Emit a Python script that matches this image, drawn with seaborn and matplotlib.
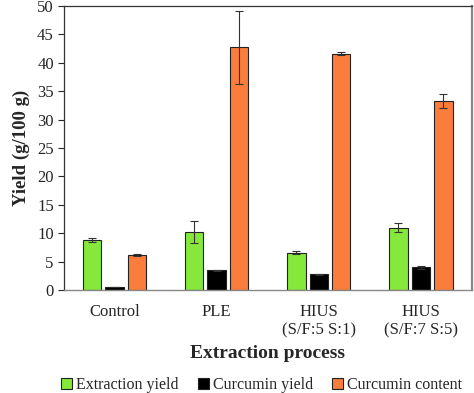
import matplotlib
matplotlib.use("Agg")
import matplotlib.pyplot as plt
import seaborn as sns
import pandas as pd
import numpy as np

categories = ["Control", "PLE", "HIUS\n(S/F:5 S:1)", "HIUS\n(S/F:7 S:5)"]
series = ["Extraction yield", "Curcumin yield", "Curcumin content"]
extraction_yield = [8.8, 10.2, 6.6, 11.0]
extraction_err = [0.3, 2.0, 0.2, 0.8]
curcumin_yield = [0.5, 3.5, 2.8, 4.0]
curcumin_yield_err = [0.05, 0.1, 0.1, 0.3]
curcumin_content = [6.2, 42.7, 41.6, 33.3]
curcumin_content_err = [0.15, 6.5, 0.3, 1.2]
colors = ["#86e83a", "#000000", "#fb7d3b"]

sns.set_style("white")
plt.rcParams["font.family"] = ["Liberation Serif", "DejaVu Serif"]

rows = []
for vals, errs, name in [(extraction_yield, extraction_err, series[0]),
                         (curcumin_yield, curcumin_yield_err, series[1]),
                         (curcumin_content, curcumin_content_err, series[2])]:
    for c, v, e in zip(categories, vals, errs):
        rows.append({"cat": c, "series": name, "value": v, "err": e})
df = pd.DataFrame(rows)

fig = plt.figure(figsize=(4.74, 3.93), dpi=100)
ax = fig.add_axes([63.5 / 474, 1 - 290 / 393, (472 - 63.5) / 474, (290 - 6) / 393])

sns.barplot(data=df, x="cat", y="value", hue="series", order=categories,
            hue_order=series, palette=colors, saturation=1, width=0.66, gap=0.18,
            edgecolor="#222222", linewidth=0.8, errorbar=None, ax=ax,
            legend=True)

for cont, name in zip(ax.containers, series):
    sub = df[df["series"] == name].set_index("cat").loc[categories]
    xs = [p.get_x() + p.get_width() / 2 for p in cont.patches]
    ax.errorbar(xs, sub["value"].values, yerr=sub["err"].values, fmt="none",
                ecolor="#333333", elinewidth=0.8, capsize=3, capthick=0.8, zorder=5)

ax.set_ylim(0, 50)
ax.set_xlim(-0.5, 3.5)
ax.set_yticks(np.arange(0, 51, 5))
ax.tick_params(axis="y", labelsize=12, length=4, direction="out", left=True, width=0.8, pad=3)
ax.tick_params(axis="x", labelsize=12, length=0, pad=10)
ax.set_ylabel("Yield (g/100 g)", fontsize=13.5, fontweight="bold", labelpad=5)
ax.set_xlabel("Extraction process", fontsize=14, fontweight="bold", labelpad=5)

for s in ["left", "top"]:
    ax.spines[s].set_color("#333333")
    ax.spines[s].set_linewidth(0.9)
ax.spines["bottom"].set_color("#888888")
ax.spines["bottom"].set_linewidth(1.0)
ax.spines["right"].set_color("#888888")
ax.spines["right"].set_linewidth(1.6)

ax.legend(loc="upper center", bbox_to_anchor=(0.485, -0.285), ncol=3, frameon=False,
          fontsize=11.5, handlelength=0.7, handleheight=0.7, handletextpad=0.25,
          columnspacing=1.2, borderaxespad=0)

fig.savefig("out.png", dpi=100)
